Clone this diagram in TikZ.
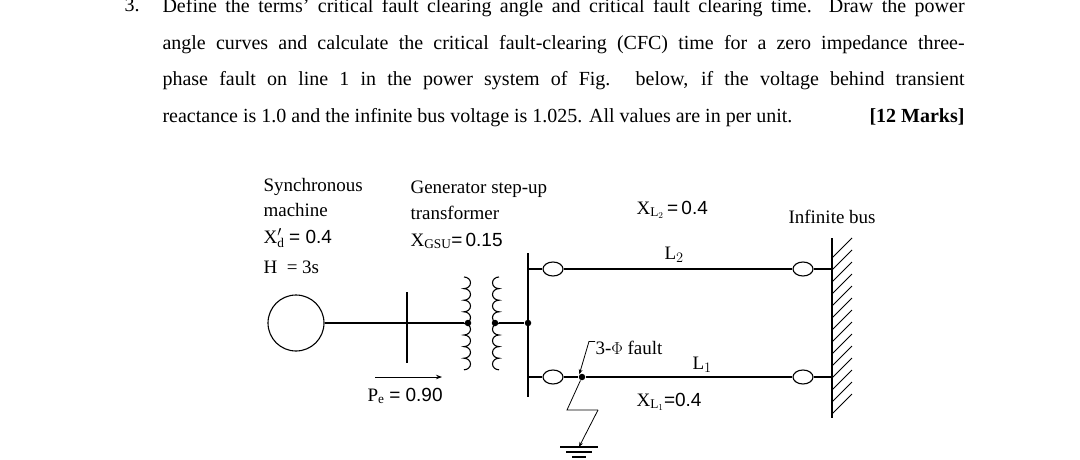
\documentclass[tikz,border=0pt]{standalone}
\usepackage{fontspec}
\setmainfont{Liberation Serif}
\newfontfamily\numf{Liberation Sans}
\usetikzlibrary{arrows.meta,shapes.geometric}
\begin{document}
\begin{tikzpicture}[x=1pt,y=-1pt,line width=1.1pt,
  lbl/.style={anchor=base west,inner sep=0pt,font=\fontsize{19}{22}\selectfont},
  brk/.style={draw,ellipse,minimum width=20pt,minimum height=14pt,inner sep=0pt,fill=white},
  dotn/.style={circle,fill,inner sep=0pt,minimum size=6.5pt}]
\useasboundingbox (0,0) rectangle (1080,459);
% question text
\node[anchor=north west,inner sep=0pt,text width=802pt,font=\fontsize{20}{36.5}\selectfont,align=justify] (q) at (162,-2)
{Define the terms' critical fault clearing angle and critical fault clearing time. Draw the power\linebreak angle curves and calculate the critical fault-clearing (CFC) time for a zero impedance three-\linebreak phase fault on line 1 in the power system of Fig. below, if the voltage behind transient\linebreak reactance is 1.0 and the infinite bus voltage is 1.025. All values are in per unit.\hfill\textbf{[12 Marks]}};
\node[anchor=north west,inner sep=0pt,font=\fontsize{20}{36.5}\selectfont] (num) at (124,-2) {3.};
% labels
\node[lbl] (t1) at (263,191) {Synchronous};
\node[lbl] (t2) at (263,216) {machine};
\node[lbl] (t3) at (263,243) {X$'_{\mathrm d}$ {\numf= 0.4}};
\node[lbl] (t4) at (263,273) {H\ \ = 3s};
\node[lbl] (g1) at (410,193) {Generator step-up};
\node[lbl] (g2) at (410,219) {transformer};
\node[lbl] (g3) at (410,246) {X$_{\mathrm{GSU}}${\numf=\,0.15}};
\node[lbl] (pe) at (367,401) {P$_{\mathrm e}$ {\numf= 0.90}};
\node[lbl] (xl2) at (636,214) {X$_{\mathrm{L}_2}${\numf\,=\,0.4}};
\node[lbl] (l2) at (664,259) {L$_2$};
\node[lbl] (l1) at (692,369) {L$_1$};
\node[lbl] (xl1) at (636,406) {X$_{\mathrm{L}_1}${\numf=0.4}};
\node[lbl] (ib) at (788,223) {Infinite bus};
\node[lbl] (ft) at (595,354) {3-$\Phi$ fault};
% machine
\node[draw,circle,minimum size=56pt,inner sep=0pt] (gen) at (296,323) {};
\coordinate (tA) at (407,292); \coordinate (tB) at (407,363);
\draw (tA) -- (tB);
\node[dotn] (d1) at (468,323) {};
\node[dotn] (d2) at (495,323) {};
\node[dotn] (d3) at (528,323) {};
\draw (gen.east) -- (d1);
\draw (d2) -- (d3);
% transformer coils
\draw (464,277) arc (-90:90:6.5 and 5.8) arc (-90:90:6.5 and 5.8) arc (-90:90:6.5 and 5.8) arc (-90:90:6.5 and 5.8) arc (-90:90:6.5 and 5.8) arc (-90:90:6.5 and 5.8) arc (-90:90:6.5 and 5.8) arc (-90:90:6.5 and 5.8);
\draw (499,277) arc (-90:-270:6.5 and 5.8) arc (-90:-270:6.5 and 5.8) arc (-90:-270:6.5 and 5.8) arc (-90:-270:6.5 and 5.8) arc (-90:-270:6.5 and 5.8) arc (-90:-270:6.5 and 5.8) arc (-90:-270:6.5 and 5.8) arc (-90:-270:6.5 and 5.8);
% bus
\coordinate (bT) at (528,253); \coordinate (bB) at (528,397);
\draw (bT) -- (bB);
\node[brk] (b2l) at (553,269) {};
\node[brk] (b1l) at (553,377) {};
\node[brk] (b2r) at (803,269) {};
\node[brk] (b1r) at (803,377) {};
\coordinate (ibT) at (832,238); \coordinate (ibB) at (832,418);
\draw (ibT) -- (ibB);
\draw (528,269) -- (b2l.west) (b2l.east) -- (b2r.west) (b2r.east) -- (832,269);
\node[dotn] (fd) at (582,377) {};
\draw (528,377) -- (b1l.west) (b1l.east) -- (fd) -- (b1r.west) (b1r.east) -- (832,377);
% hatching
\foreach \y in {258,270,...,418} \draw[line width=0.8pt] (832,\y) -- (852,\y-20);
% fault
\coordinate (z1) at (567,410); \coordinate (z2) at (598,410); \coordinate (gnd) at (579,447);
\draw[line width=0.8pt] (fd) -- (z1) -- (z2);
\draw[line width=0.8pt,-{Stealth[length=5pt]}] (z2) -- (gnd);
\draw (560,447) -- (598,447) (566,452) -- (592,452) (572,457) -- (586,457);
\draw[line width=0.8pt,-{Stealth[length=5pt]}] (ft.west) ++(0,-6) -- ++(-6,0) -- (fd.north west);
% power arrow
\coordinate (pa) at (375,377); \coordinate (pb) at (442,377);
\draw[line width=0.8pt,-{Stealth[length=6pt]}] (pa) -- (pb);
\end{tikzpicture}
\end{document}
